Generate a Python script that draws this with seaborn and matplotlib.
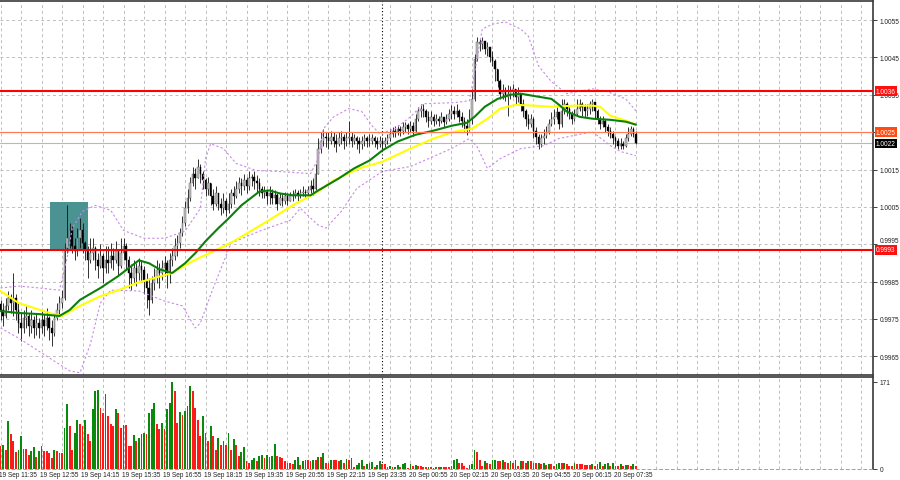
import numpy as np
import pandas as pd
import matplotlib
matplotlib.use("Agg")
import matplotlib.pyplot as plt
import matplotlib.transforms as mtransforms
from matplotlib.patches import Rectangle
import seaborn as sns

sns.set_theme(style="white", context="paper")
plt.rcParams['font.family'] = ['Liberation Sans', 'DejaVu Sans']

# ---- 5-minute candles (bar index = time step) ----
first_open = 0.99790
close = [
    0.99774, 0.99758, 0.99785, 0.99806, 0.99793, 0.99806, 0.99774, 0.99739, 0.99726, 0.99753,
    0.99758, 0.99731, 0.99747, 0.99726, 0.99739, 0.99726, 0.99747, 0.99731, 0.99753, 0.99726,
    0.99713, 0.99753, 0.99774, 0.99793, 0.99806, 0.99939, 0.99966, 0.99987, 0.99945, 0.99931,
    0.99966, 0.99987, 0.99953, 0.99934, 0.99907, 0.99926, 0.99939, 0.99907, 0.99891, 0.99918,
    0.99886, 0.99907, 0.99899, 0.99918, 0.99907, 0.99931, 0.99891, 0.99926, 0.99945, 0.99907,
    0.99873, 0.99859, 0.99886, 0.99873, 0.99891, 0.99881, 0.99854, 0.99833, 0.99801, 0.99846,
    0.99859, 0.99881, 0.99873, 0.99886, 0.99899, 0.99873, 0.99907, 0.99918, 0.99945, 0.99953,
    0.99979, 1.00006, 1.00046, 1.00073, 1.00113, 1.00139, 1.00126, 1.00158, 1.00139, 1.00121,
    1.00099, 1.00113, 1.00078, 1.00059, 1.00086, 1.00059, 1.00046, 1.00065, 1.00041, 1.00059,
    1.00086, 1.00078, 1.00099, 1.00113, 1.00105, 1.00121, 1.00107, 1.00126, 1.00131, 1.00118,
    1.00113, 1.00099, 1.00086, 1.00091, 1.00078, 1.00086, 1.00073, 1.00081, 1.00059, 1.00073,
    1.00065, 1.00078, 1.00067, 1.00078, 1.00081, 1.00086, 1.00081, 1.00086, 1.00091, 1.00086,
    1.00094, 1.00105, 1.00099, 1.00139, 1.00206, 1.00225, 1.00238, 1.00233, 1.00225, 1.00238,
    1.00227, 1.00219, 1.00233, 1.00238, 1.00227, 1.00233, 1.00238, 1.00227, 1.00233, 1.00225,
    1.00217, 1.00225, 1.00233, 1.00225, 1.00227, 1.00233, 1.00225, 1.00219, 1.00227, 1.00219,
    1.00225, 1.00233, 1.00246, 1.00254, 1.00251, 1.00259, 1.00254, 1.00265, 1.00270, 1.00259,
    1.00267, 1.00254, 1.00286, 1.00307, 1.00313, 1.00307, 1.00291, 1.00281, 1.00291, 1.00281,
    1.00286, 1.00281, 1.00291, 1.00278, 1.00286, 1.00299, 1.00307, 1.00299, 1.00307, 1.00291,
    1.00281, 1.00267, 1.00259, 1.00286, 1.00339, 1.00446, 1.00491, 1.00486, 1.00494, 1.00473,
    1.00478, 1.00451, 1.00441, 1.00419, 1.00387, 1.00353, 1.00361, 1.00345, 1.00353, 1.00361,
    1.00366, 1.00345, 1.00353, 1.00326, 1.00307, 1.00286, 1.00273, 1.00286, 1.00254, 1.00238,
    1.00219, 1.00233, 1.00241, 1.00251, 1.00273, 1.00286, 1.00291, 1.00305, 1.00273, 1.00307,
    1.00326, 1.00313, 1.00299, 1.00286, 1.00299, 1.00313, 1.00326, 1.00318, 1.00307, 1.00313,
    1.00326, 1.00331, 1.00307, 1.00286, 1.00273, 1.00281, 1.00265, 1.00254, 1.00246, 1.00233,
    1.00225, 1.00214, 1.00219, 1.00214, 1.00233, 1.00246, 1.00259, 1.00246, 1.00220,
]
high = [
    0.99801, 0.99793, 0.99806, 0.99825, 0.99817, 0.99873, 0.99817, 0.99793, 0.99766, 0.99774,
    0.99785, 0.99766, 0.99774, 0.99758, 0.99766, 0.99753, 0.99774, 0.99763, 0.99779, 0.99758,
    0.99747, 0.99766, 0.99793, 0.99811, 0.99827, 0.99953, 1.00054, 1.00006, 0.99998, 0.99966,
    0.99993, 1.00019, 1.00006, 0.99958, 0.99945, 0.99966, 0.99966, 0.99945, 0.99926, 0.99950,
    0.99926, 0.99945, 0.99945, 0.99953, 0.99939, 0.99958, 0.99934, 0.99966, 0.99966, 0.99953,
    0.99918, 0.99897, 0.99907, 0.99899, 0.99913, 0.99907, 0.99891, 0.99873, 0.99859, 0.99865,
    0.99886, 0.99907, 0.99899, 0.99907, 0.99918, 0.99907, 0.99926, 0.99939, 0.99966, 0.99974,
    0.99993, 1.00025, 1.00065, 1.00099, 1.00131, 1.00158, 1.00153, 1.00179, 1.00166, 1.00147,
    1.00126, 1.00131, 1.00113, 1.00099, 1.00105, 1.00086, 1.00073, 1.00086, 1.00073, 1.00086,
    1.00099, 1.00105, 1.00118, 1.00131, 1.00126, 1.00139, 1.00131, 1.00145, 1.00139, 1.00147,
    1.00134, 1.00126, 1.00105, 1.00105, 1.00099, 1.00105, 1.00099, 1.00094, 1.00086, 1.00086,
    1.00086, 1.00091, 1.00086, 1.00091, 1.00094, 1.00099, 1.00094, 1.00099, 1.00105, 1.00099,
    1.00107, 1.00121, 1.00126, 1.00166, 1.00233, 1.00251, 1.00259, 1.00251, 1.00251, 1.00254,
    1.00251, 1.00246, 1.00251, 1.00254, 1.00246, 1.00251, 1.00281, 1.00251, 1.00246, 1.00241,
    1.00238, 1.00241, 1.00246, 1.00241, 1.00246, 1.00246, 1.00241, 1.00238, 1.00241, 1.00233,
    1.00238, 1.00246, 1.00259, 1.00265, 1.00267, 1.00270, 1.00267, 1.00278, 1.00278, 1.00275,
    1.00281, 1.00278, 1.00299, 1.00318, 1.00326, 1.00326, 1.00313, 1.00307, 1.00307, 1.00299,
    1.00299, 1.00294, 1.00305, 1.00291, 1.00299, 1.00313, 1.00323, 1.00321, 1.00326, 1.00313,
    1.00305, 1.00291, 1.00286, 1.00313, 1.00366, 1.00459, 1.00505, 1.00499, 1.00505, 1.00494,
    1.00491, 1.00478, 1.00467, 1.00446, 1.00419, 1.00393, 1.00379, 1.00371, 1.00377, 1.00374,
    1.00379, 1.00366, 1.00371, 1.00353, 1.00339, 1.00313, 1.00299, 1.00299, 1.00291, 1.00265,
    1.00246, 1.00246, 1.00259, 1.00267, 1.00286, 1.00305, 1.00313, 1.00318, 1.00299, 1.00339,
    1.00339, 1.00331, 1.00318, 1.00307, 1.00313, 1.00339, 1.00339, 1.00331, 1.00326, 1.00326,
    1.00334, 1.00339, 1.00331, 1.00313, 1.00294, 1.00294, 1.00286, 1.00273, 1.00265, 1.00254,
    1.00241, 1.00233, 1.00233, 1.00227, 1.00246, 1.00265, 1.00267, 1.00265, 1.00254,
]
low = [
    0.99747, 0.99731, 0.99753, 0.99774, 0.99766, 0.99758, 0.99747, 0.99713, 0.99691, 0.99713,
    0.99726, 0.99705, 0.99713, 0.99699, 0.99707, 0.99699, 0.99713, 0.99705, 0.99721, 0.99694,
    0.99678, 0.99705, 0.99747, 0.99763, 0.99779, 0.99801, 0.99926, 0.99939, 0.99926, 0.99907,
    0.99918, 0.99939, 0.99926, 0.99907, 0.99859, 0.99899, 0.99907, 0.99881, 0.99859, 0.99886,
    0.99846, 0.99873, 0.99873, 0.99886, 0.99881, 0.99899, 0.99865, 0.99886, 0.99907, 0.99881,
    0.99833, 0.99827, 0.99846, 0.99838, 0.99854, 0.99849, 0.99817, 0.99779, 0.99761, 0.99793,
    0.99827, 0.99846, 0.99833, 0.99854, 0.99865, 0.99833, 0.99846, 0.99891, 0.99907, 0.99918,
    0.99939, 0.99971, 0.99998, 1.00033, 1.00067, 1.00105, 1.00099, 1.00126, 1.00113, 1.00099,
    1.00078, 1.00081, 1.00054, 1.00041, 1.00051, 1.00041, 1.00027, 1.00033, 1.00025, 1.00033,
    1.00046, 1.00059, 1.00073, 1.00086, 1.00083, 1.00094, 1.00086, 1.00094, 1.00105, 1.00099,
    1.00091, 1.00078, 1.00073, 1.00073, 1.00059, 1.00059, 1.00057, 1.00059, 1.00041, 1.00054,
    1.00051, 1.00059, 1.00054, 1.00065, 1.00067, 1.00073, 1.00067, 1.00073, 1.00078, 1.00073,
    1.00078, 1.00086, 1.00083, 1.00094, 1.00139, 1.00193, 1.00214, 1.00211, 1.00206, 1.00219,
    1.00211, 1.00198, 1.00214, 1.00219, 1.00206, 1.00214, 1.00219, 1.00211, 1.00219, 1.00206,
    1.00193, 1.00206, 1.00214, 1.00211, 1.00214, 1.00217, 1.00211, 1.00206, 1.00211, 1.00201,
    1.00211, 1.00217, 1.00225, 1.00238, 1.00238, 1.00243, 1.00241, 1.00246, 1.00251, 1.00246,
    1.00251, 1.00241, 1.00251, 1.00281, 1.00291, 1.00291, 1.00278, 1.00265, 1.00273, 1.00267,
    1.00273, 1.00267, 1.00275, 1.00265, 1.00273, 1.00281, 1.00286, 1.00286, 1.00291, 1.00278,
    1.00265, 1.00254, 1.00243, 1.00254, 1.00273, 1.00334, 1.00441, 1.00467, 1.00473, 1.00459,
    1.00454, 1.00438, 1.00427, 1.00387, 1.00371, 1.00339, 1.00339, 1.00334, 1.00294, 1.00339,
    1.00345, 1.00326, 1.00331, 1.00307, 1.00291, 1.00267, 1.00259, 1.00265, 1.00233, 1.00219,
    1.00206, 1.00211, 1.00219, 1.00233, 1.00246, 1.00267, 1.00273, 1.00286, 1.00259, 1.00265,
    1.00299, 1.00294, 1.00286, 1.00273, 1.00281, 1.00294, 1.00307, 1.00294, 1.00291, 1.00294,
    1.00299, 1.00307, 1.00286, 1.00273, 1.00259, 1.00265, 1.00251, 1.00241, 1.00233, 1.00219,
    1.00211, 1.00206, 1.00206, 1.00206, 1.00211, 1.00227, 1.00241, 1.00238, 1.00217,
]
volume = [
    45, 47, 38, 94, 68, 55, 33, 38, 64, 39,
    39, 28, 35, 43, 24, 35, 45, 35, 35, 32,
    22, 38, 35, 32, 32, 81, 127, 84, 38, 71,
    97, 88, 84, 97, 68, 55, 117, 153, 155, 120,
    111, 147, 104, 88, 84, 117, 111, 81, 86, 86,
    46, 46, 66, 55, 61, 68, 71, 68, 111, 117,
    130, 88, 78, 91, 78, 117, 130, 171, 153, 91,
    112, 107, 114, 124, 163, 153, 120, 97, 64, 104,
    71, 55, 84, 64, 38, 61, 48, 55, 48, 71,
    38, 58, 48, 26, 33, 43, 15, 12, 18, 22,
    15, 25, 28, 22, 28, 24, 26, 50, 25, 24,
    22, 15, 12, 12, 9, 18, 24, 7, 15, 18,
    18, 15, 17, 17, 24, 24, 32, 12, 11, 17,
    17, 17, 15, 17, 12, 20, 18, 22, 4, 7,
    12, 17, 5, 9, 11, 13, 4, 7, 15, 9,
    9, 4, 5, 3, 4, 7, 4, 9, 11, 2,
    9, 5, 7, 5, 5, 4, 3, 4, 4, 2,
    3, 3, 4, 4, 4, 4, 5, 17, 20, 12,
    12, 5, 2, 7, 9, 37, 34, 17, 5, 15,
    11, 9, 17, 18, 15, 15, 18, 14, 12, 15,
    12, 18, 5, 16, 15, 11, 15, 15, 12, 11,
    12, 9, 11, 7, 10, 9, 5, 10, 12, 11,
    12, 9, 5, 5, 11, 9, 9, 9, 7, 7,
    7, 9, 5, 9, 13, 5, 10, 12, 5, 11,
    5, 5, 10, 5, 7, 7, 5, 9, 5,
]

# ---- indicators, read at sample bars ----
ma_fast_bars = [0, 7, 15, 23, 27, 31, 39, 46, 54, 58, 62, 67, 72, 76, 80, 85, 89, 94, 101, 105,
                109, 114, 121, 124, 132, 138, 144, 149, 155, 162, 169, 176, 182, 185, 189, 194,
                199, 203, 208, 215, 218, 221, 226, 231, 238, 244, 248]
ma_fast = [0.99771, 0.99766, 0.99763, 0.99758, 0.99774, 0.99801, 0.99833, 0.99865, 0.99907, 0.99899,
           0.99883, 0.99873, 0.99899, 0.99926, 0.99958, 0.99993, 1.00019, 1.00054, 1.00091, 1.00094,
           1.00086, 1.00081, 1.00081, 1.00094, 1.00126, 1.00153, 1.00174, 1.00201, 1.00225, 1.00243,
           1.00254, 1.00267, 1.00275, 1.00291, 1.00318, 1.00339, 1.00350, 1.00353, 1.00347, 1.00339,
           1.00323, 1.00305, 1.00291, 1.00286, 1.00283, 1.00278, 1.00270]
ma_slow_bars = [0, 7, 19, 24, 31, 39, 46, 53, 67, 75, 84, 91, 104, 114, 124, 130, 140, 149, 160,
                169, 177, 184, 190, 195, 201, 208, 215, 224, 231, 234, 238, 244, 248]
ma_slow = [0.99825, 0.99793, 0.99766, 0.99758, 0.99785, 0.99811, 0.99827, 0.99846, 0.99873, 0.99905,
           0.99934, 0.99958, 1.00011, 1.00054, 1.00091, 1.00121, 1.00153, 1.00171, 1.00206, 1.00233,
           1.00251, 1.00259, 1.00286, 1.00313, 1.00323, 1.00321, 1.00318, 1.00321, 1.00321, 1.00318,
           1.00294, 1.00281, 1.00270]
band_up_bars = [0, 7, 15, 23, 26, 28, 32, 37, 43, 48, 56, 64, 72, 78, 80, 82, 87, 92, 100, 108,
                121, 124, 126, 130, 136, 141, 145, 148, 154, 160, 165, 177, 183, 186, 188, 192,
                197, 203, 206, 210, 215, 221, 231, 237, 244, 248]
band_up = [0.99833, 0.99838, 0.99833, 0.99827, 0.99913, 0.99993, 1.00038, 1.00054, 1.00041, 0.99987,
           0.99966, 0.99966, 0.99985, 1.00046, 1.00179, 1.00219, 1.00206, 1.00166, 1.00147, 1.00145,
           1.00139, 1.00179, 1.00259, 1.00291, 1.00313, 1.00305, 1.00267, 1.00246, 1.00259, 1.00291,
           1.00326, 1.00329, 1.00334, 1.00446, 1.00526, 1.00539, 1.00545, 1.00526, 1.00507, 1.00427,
           1.00385, 1.00353, 1.00366, 1.00358, 1.00339, 1.00307]
band_lo_bars = [0, 7, 19, 27, 31, 35, 39, 43, 54, 64, 71, 76, 78, 83, 90, 101, 113, 117, 124, 127,
                133, 139, 149, 160, 176, 183, 186, 190, 195, 203, 212, 218, 231, 238, 242, 248]
band_lo = [0.99726, 0.99699, 0.99646, 0.99611, 0.99606, 0.99681, 0.99793, 0.99827, 0.99825, 0.99798,
           0.99785, 0.99726, 0.99739, 0.99833, 0.99953, 0.99985, 1.00014, 1.00046, 1.00001, 0.99993,
           1.00038, 1.00099, 1.00145, 1.00158, 1.00206, 1.00233, 1.00211, 1.00153, 1.00179, 1.00206,
           1.00214, 1.00233, 1.00251, 1.00214, 1.00198, 1.00187]

# ---- levels, zone, axis labels ----
level_top = 1.0036
level_mid = 1.0025
level_bottom = 0.99935
last_price = 1.0022
zone_bars = (19.2, 34.3)
zone_prices = (0.99937, 1.00062)
midnight_bar = 149
price_ticks = [0.9965, 0.9975, 0.9985, 0.9995, 1.0005, 1.0015, 1.0025, 1.0035, 1.0045, 1.0055]
time_labels = ["19 Sep 11:35", "19 Sep 12:55", "19 Sep 14:15", "19 Sep 15:35", "19 Sep 16:55",
               "19 Sep 18:15", "19 Sep 19:35", "19 Sep 20:55", "19 Sep 22:15", "19 Sep 23:35",
               "20 Sep 00:55", "20 Sep 02:15", "20 Sep 03:35", "20 Sep 04:55", "20 Sep 06:15",
               "20 Sep 07:35"]
label_step = 16
vol_max_label = 171

n = len(close)
bars = np.arange(n)
c = np.array(close)
o = np.array([first_open] + close[:-1])
h = np.array(high)
l = np.array(low)
v = np.array(volume)

W, H = 900, 481
fig = plt.figure(figsize=(W / 100, H / 100), dpi=100)
ax = fig.add_axes([0, 1 - 376 / H, 873 / W, 374 / H])
axv = fig.add_axes([0, 1 - 470 / H, 873 / W, 92 / H])

grid_kw = dict(color='#bdbdbd', linestyle=(0, (3, 3)), linewidth=0.7)
for a in (ax, axv):
    a.set_facecolor('white')
    a.set_xlim(-0.2, 340.5)
    a.set_xticks(np.arange(0, 341, 8))
    a.tick_params(axis='x', length=0, labelbottom=False)
    a.xaxis.grid(True, **grid_kw)
    a.set_axisbelow(True)
    for s in a.spines.values():
        s.set_color('#3a3a3a')
        s.set_linewidth(1.2)
    a.spines['left'].set_visible(False)
    a.yaxis.tick_right()
    a.tick_params(axis='y', length=3, width=0.6, pad=1.5, labelsize=4.7,
                  colors='#202020', right=True, left=False)

# main panel; the 1.0025 tick label sits under its own level box
ax.set_ylim(0.99600, 1.00601)
ax.set_yticks(price_ticks)
ax.set_yticklabels(['' if abs(p - level_mid) < 1e-9 else f"{p:.4f}" for p in price_ticks])
ax.yaxis.grid(True, **grid_kw)
for lab in ax.get_yticklabels():
    if lab.get_text() == "0.9995":
        lab.set_verticalalignment('bottom')

ax.add_patch(Rectangle((zone_bars[0], zone_prices[0]), zone_bars[1] - zone_bars[0],
                       zone_prices[1] - zone_prices[0], facecolor='#4b9393',
                       edgecolor='none', zorder=1))

ax.axhline(last_price, color='#b8b8b8', lw=0.8, zorder=2)
ax.axvline(midnight_bar, color='black', lw=0.8, ls=(0, (1, 2)), zorder=2)
axv.axvline(midnight_bar, color='black', lw=0.8, ls=(0, (1, 2)), zorder=2)

# candles
ax.vlines(bars, l, h, color='#101010', lw=0.6, zorder=4)
bull = c >= o
body_bottom = np.minimum(o, c)
body_height = np.maximum(np.abs(c - o), 0.000025)
ax.bar(bars, body_height, bottom=body_bottom, width=0.62,
       color=np.where(bull, '#c4c4c4', '#000000'),
       edgecolor=np.where(bull, '#505050', '#000000'), linewidth=0.3, zorder=5)

# bands and moving averages
bands = pd.concat([
    pd.DataFrame({'bar': band_up_bars, 'price': band_up, 'line': 'up'}),
    pd.DataFrame({'bar': band_lo_bars, 'price': band_lo, 'line': 'lo'}),
])
sns.lineplot(data=bands, x='bar', y='price', units='line', estimator=None, sort=False,
             color='#c88ae6', lw=0.8, ls=(0, (2, 2)), ax=ax, zorder=6)
sns.lineplot(x=ma_slow_bars, y=ma_slow, color='#ffff00', lw=1.5, ax=ax, zorder=7)
sns.lineplot(x=ma_fast_bars, y=ma_fast, color='#0a800a', lw=1.5, ax=ax, zorder=8)

ax.axhline(level_top, color='#ff0000', lw=1.5, zorder=9)
ax.axhline(level_bottom, color='#ff0000', lw=1.5, zorder=9)
ax.axhline(level_mid, color='#ff7a55', lw=0.9, zorder=9)
ax.set_xlabel('')
ax.set_ylabel('')

# price boxes on the right
for price, txt, col in [(level_top, "1.0036", '#ff1010'), (level_mid, "1.0025", '#ff4a10'),
                        (last_price, "1.0022", '#000000'), (level_bottom, "0.9993", '#ff1010')]:
    ax.annotate(txt, xy=(1, price), xycoords=('axes fraction', 'data'),
                xytext=(3, 0), textcoords='offset pixels', ha='left', va='center',
                fontsize=4.7, color='white', annotation_clip=False, zorder=20,
                bbox=dict(boxstyle='square,pad=0.2', fc=col, ec='none'))

# volume panel
vol_colors = ['#0a8a0a' if i > 0 and v[i] > v[i - 1] else '#ff1a1a' for i in range(n)]
axv.bar(bars, v, width=0.72, color=vol_colors, linewidth=0, zorder=3)
axv.set_ylim(0, 180.8)
axv.set_yticks([0, vol_max_label])
axv.set_yticklabels(['0', str(vol_max_label)])
axv.spines['bottom'].set_linestyle((0, (3, 3)))
axv.spines['bottom'].set_color('#a0a0a0')
axv.spines['bottom'].set_linewidth(0.7)

tr = mtransforms.blended_transform_factory(axv.transData, fig.transFigure)
for k, lab in enumerate(time_labels):
    axv.text(k * label_step - 0.4, 1 - 476 / H, lab, transform=tr, ha='left', va='center',
             fontsize=4.7, color='#202020', clip_on=False)

fig.savefig("out.png", dpi=100, facecolor='white')
